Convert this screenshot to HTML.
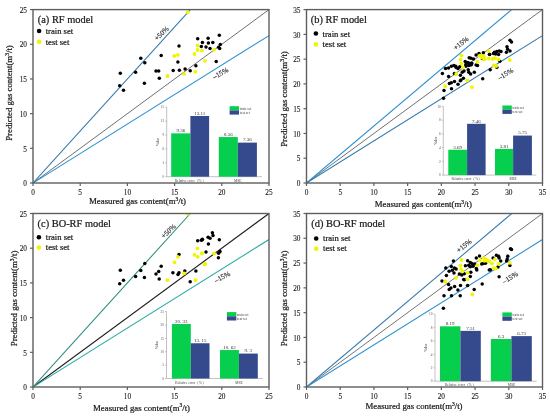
<!DOCTYPE html><html><head><meta charset="utf-8"><style>html,body{margin:0;padding:0;background:#fff;}svg{display:block;}#w{width:550px;height:416px;overflow:hidden;will-change:transform;}</style></head><body><div id="w">
<svg width="550" height="416" viewBox="0 0 550 416" font-family='"Liberation Serif", serif'>
<rect width="550" height="416" fill="#fff"/>
<style>.t{stroke:#1a1a1a;stroke-width:0.22px;}.k{stroke:#1a1a1a;stroke-width:0.1px;}</style>
<clipPath id="ca"><rect x="33" y="9.6" width="236" height="173.4"/></clipPath>
<g clip-path="url(#ca)">
<line x1="33" y1="183" x2="269" y2="9.6" stroke="#707070" stroke-width="1.0"/>
<line x1="33" y1="183" x2="190.33" y2="9.6" stroke="#3479ad" stroke-width="1.05"/>
<line x1="33" y1="183" x2="269" y2="35.61" stroke="#2b8fcf" stroke-width="1.05"/>
<circle cx="120.3" cy="73.3" r="1.75" fill="#000"/>
<circle cx="119.7" cy="85.7" r="1.75" fill="#000"/>
<circle cx="123.5" cy="90.3" r="1.75" fill="#000"/>
<circle cx="135.6" cy="72.2" r="1.75" fill="#000"/>
<circle cx="140.8" cy="58.3" r="1.75" fill="#000"/>
<circle cx="144.8" cy="62.8" r="1.75" fill="#000"/>
<circle cx="144.4" cy="83.3" r="1.75" fill="#000"/>
<circle cx="156" cy="71.1" r="1.75" fill="#000"/>
<circle cx="158.7" cy="71.1" r="1.75" fill="#000"/>
<circle cx="159.3" cy="78.2" r="1.75" fill="#000"/>
<circle cx="161.2" cy="55.6" r="1.75" fill="#000"/>
<circle cx="179" cy="45.9" r="1.75" fill="#000"/>
<circle cx="177.9" cy="62.1" r="1.75" fill="#000"/>
<circle cx="197.7" cy="38.7" r="1.75" fill="#000"/>
<circle cx="202.4" cy="42.4" r="1.75" fill="#000"/>
<circle cx="201.3" cy="46.5" r="1.75" fill="#000"/>
<circle cx="195.9" cy="65.7" r="1.75" fill="#000"/>
<circle cx="173.2" cy="70.4" r="1.75" fill="#000"/>
<circle cx="179.4" cy="70.3" r="1.75" fill="#000"/>
<circle cx="185.1" cy="69" r="1.75" fill="#000"/>
<circle cx="190.2" cy="70.8" r="1.75" fill="#000"/>
<circle cx="219.3" cy="35.2" r="1.75" fill="#000"/>
<circle cx="208.1" cy="38.3" r="1.75" fill="#000"/>
<circle cx="208.4" cy="43" r="1.75" fill="#000"/>
<circle cx="212.8" cy="42.4" r="1.75" fill="#000"/>
<circle cx="206" cy="47" r="1.75" fill="#000"/>
<circle cx="210" cy="48.4" r="1.75" fill="#000"/>
<circle cx="220.3" cy="44.6" r="1.75" fill="#000"/>
<circle cx="218.6" cy="47.3" r="1.75" fill="#000"/>
<circle cx="219.7" cy="48.4" r="1.75" fill="#000"/>
<circle cx="216.2" cy="61.6" r="1.75" fill="#000"/>
<circle cx="174.3" cy="56" r="1.9" fill="#f0f500"/>
<circle cx="177.9" cy="54.9" r="1.9" fill="#f0f500"/>
<circle cx="197.5" cy="45.4" r="1.9" fill="#f0f500"/>
<circle cx="197.5" cy="50" r="1.9" fill="#f0f500"/>
<circle cx="201.9" cy="50.6" r="1.9" fill="#f0f500"/>
<circle cx="194.5" cy="54" r="1.9" fill="#f0f500"/>
<circle cx="195.3" cy="71.7" r="1.9" fill="#f0f500"/>
<circle cx="184.2" cy="73.9" r="1.9" fill="#f0f500"/>
<circle cx="167.4" cy="76" r="1.9" fill="#f0f500"/>
<circle cx="205" cy="60.8" r="1.9" fill="#f0f500"/>
<circle cx="214.1" cy="49.8" r="1.9" fill="#f0f500"/>
<circle cx="187.8" cy="12.3" r="1.9" fill="#f0f500"/>
</g>
<rect x="33" y="9.6" width="236" height="173.4" fill="none" stroke="#5e5e5e" stroke-width="1.4"/>
<line x1="30" y1="183.00" x2="33" y2="183.00" stroke="#5e5e5e" stroke-width="1.2"/>
<line x1="33.00" y1="183" x2="33.00" y2="186" stroke="#5e5e5e" stroke-width="1.2"/>
<text x="27" y="186.20" font-size="7.3" text-anchor="end" fill="#1a1a1a" class="k">0</text>
<text x="33.00" y="194.50" font-size="7.3" text-anchor="middle" fill="#1a1a1a" class="k">0</text>
<line x1="30" y1="148.32" x2="33" y2="148.32" stroke="#5e5e5e" stroke-width="1.2"/>
<line x1="80.20" y1="183" x2="80.20" y2="186" stroke="#5e5e5e" stroke-width="1.2"/>
<text x="27" y="151.52" font-size="7.3" text-anchor="end" fill="#1a1a1a" class="k">5</text>
<text x="80.20" y="194.50" font-size="7.3" text-anchor="middle" fill="#1a1a1a" class="k">5</text>
<line x1="30" y1="113.64" x2="33" y2="113.64" stroke="#5e5e5e" stroke-width="1.2"/>
<line x1="127.40" y1="183" x2="127.40" y2="186" stroke="#5e5e5e" stroke-width="1.2"/>
<text x="27" y="116.84" font-size="7.3" text-anchor="end" fill="#1a1a1a" class="k">10</text>
<text x="127.40" y="194.50" font-size="7.3" text-anchor="middle" fill="#1a1a1a" class="k">10</text>
<line x1="30" y1="78.96" x2="33" y2="78.96" stroke="#5e5e5e" stroke-width="1.2"/>
<line x1="174.60" y1="183" x2="174.60" y2="186" stroke="#5e5e5e" stroke-width="1.2"/>
<text x="27" y="82.16" font-size="7.3" text-anchor="end" fill="#1a1a1a" class="k">15</text>
<text x="174.60" y="194.50" font-size="7.3" text-anchor="middle" fill="#1a1a1a" class="k">15</text>
<line x1="30" y1="44.28" x2="33" y2="44.28" stroke="#5e5e5e" stroke-width="1.2"/>
<line x1="221.80" y1="183" x2="221.80" y2="186" stroke="#5e5e5e" stroke-width="1.2"/>
<text x="27" y="47.48" font-size="7.3" text-anchor="end" fill="#1a1a1a" class="k">20</text>
<text x="221.80" y="194.50" font-size="7.3" text-anchor="middle" fill="#1a1a1a" class="k">20</text>
<line x1="30" y1="9.60" x2="33" y2="9.60" stroke="#5e5e5e" stroke-width="1.2"/>
<line x1="269.00" y1="183" x2="269.00" y2="186" stroke="#5e5e5e" stroke-width="1.2"/>
<text x="27" y="12.80" font-size="7.3" text-anchor="end" fill="#1a1a1a" class="k">25</text>
<text x="269.00" y="194.50" font-size="7.3" text-anchor="middle" fill="#1a1a1a" class="k">25</text>
<text x="89" y="204.2" font-size="8.8" fill="#1a1a1a" class="t">Measured gas content(m<tspan font-size="5.5" dy="-3.2">3</tspan><tspan dy="3.2">/t)</tspan></text>
<text transform="translate(12,140.8) rotate(-90)" x="0" y="0" font-size="8.8" fill="#1a1a1a" class="t">Predicted gas content(m<tspan font-size="5.5" dy="-3.2">3</tspan><tspan dy="3.2">/t)</tspan></text>
<text x="37.8" y="22.7" font-size="10.4" fill="#1a1a1a" class="t">(a) RF model</text>
<circle cx="39.1" cy="31.0" r="2.3" fill="#000"/>
<text x="45.7" y="34.2" font-size="8.6" fill="#1a1a1a" class="t">train set</text>
<circle cx="39.1" cy="41.800000000000004" r="2.3" fill="#f0f500"/>
<text x="45.7" y="44.6" font-size="8.6" fill="#1a1a1a" class="t">test set</text>
<text transform="translate(161.6,33.4) rotate(-43)" x="0" y="2.3" font-size="7.2" text-anchor="middle" fill="#3a3a3a" stroke="#3a3a3a" stroke-width="0.2">+50%</text>
<text transform="translate(220.5,73.4) rotate(-29)" x="0" y="2.3" font-size="7.2" text-anchor="middle" fill="#3a3a3a" stroke="#3a3a3a" stroke-width="0.2">–15%</text>
<line x1="166.7" y1="176.7" x2="166.7" y2="107.25" stroke="#9a9a9a" stroke-width="0.6"/>
<line x1="166.7" y1="176.7" x2="262" y2="176.7" stroke="#9a9a9a" stroke-width="0.6"/>
<line x1="165.2" y1="176.70" x2="166.7" y2="176.70" stroke="#888" stroke-width="0.5"/>
<text x="164.2" y="177.90" font-size="3.4" text-anchor="end" fill="#555">0</text>
<line x1="165.2" y1="162.81" x2="166.7" y2="162.81" stroke="#888" stroke-width="0.5"/>
<text x="164.2" y="164.01" font-size="3.4" text-anchor="end" fill="#555">3</text>
<line x1="165.2" y1="148.92" x2="166.7" y2="148.92" stroke="#888" stroke-width="0.5"/>
<text x="164.2" y="150.12" font-size="3.4" text-anchor="end" fill="#555">6</text>
<line x1="165.2" y1="135.03" x2="166.7" y2="135.03" stroke="#888" stroke-width="0.5"/>
<text x="164.2" y="136.23" font-size="3.4" text-anchor="end" fill="#555">9</text>
<line x1="165.2" y1="121.14" x2="166.7" y2="121.14" stroke="#888" stroke-width="0.5"/>
<text x="164.2" y="122.34" font-size="3.4" text-anchor="end" fill="#555">12</text>
<line x1="165.2" y1="107.25" x2="166.7" y2="107.25" stroke="#888" stroke-width="0.5"/>
<text x="164.2" y="108.45" font-size="3.4" text-anchor="end" fill="#555">15</text>
<rect x="171.2" y="133.36" width="19.20" height="43.34" fill="#05cf4c"/>
<text x="180.80" y="132.16" font-size="5" text-anchor="middle" fill="#333">9.36</text>
<rect x="190.4" y="116.00" width="18.70" height="60.70" fill="#354a8c"/>
<text x="199.75" y="114.80" font-size="5" text-anchor="middle" fill="#333">13.11</text>
<rect x="218.8" y="137.07" width="19.00" height="39.63" fill="#05cf4c"/>
<text x="228.30" y="135.87" font-size="5" text-anchor="middle" fill="#333">8.56</text>
<rect x="237.8" y="142.62" width="19.10" height="34.08" fill="#354a8c"/>
<text x="247.35" y="141.42" font-size="5" text-anchor="middle" fill="#333">7.36</text>
<text x="190.15" y="181.70" font-size="3.6" text-anchor="middle" fill="#444">Relative error（%）</text>
<text x="237.80" y="181.70" font-size="3.6" text-anchor="middle" fill="#444">MSE</text>
<text transform="translate(158.6,141.97) rotate(-90)" x="0" y="0" font-size="3.6" text-anchor="middle" fill="#444">Value</text>
<rect x="229.6" y="106.2" width="9.4" height="4.2" fill="#05cf4c"/>
<rect x="229.6" y="110.4" width="9.4" height="4.2" fill="#354a8c"/>
<text x="239.79999999999998" y="109.60000000000001" font-size="3.6" fill="#444">train set</text>
<text x="239.79999999999998" y="113.8" font-size="3.6" fill="#444">test set</text>
<clipPath id="cb"><rect x="306.5" y="9.6" width="236.0" height="173.4"/></clipPath>
<g clip-path="url(#cb)">
<line x1="306.5" y1="183" x2="542.5" y2="9.6" stroke="#707070" stroke-width="1.0"/>
<line x1="306.5" y1="183" x2="511.72" y2="9.6" stroke="#2b8fcf" stroke-width="1.05"/>
<line x1="306.5" y1="183" x2="542.5" y2="35.61" stroke="#3479ad" stroke-width="1.05"/>
<circle cx="442.4" cy="73.4" r="1.75" fill="#000"/>
<circle cx="445.5" cy="68.4" r="1.75" fill="#000"/>
<circle cx="448.5" cy="68.1" r="1.75" fill="#000"/>
<circle cx="451.4" cy="66.2" r="1.75" fill="#000"/>
<circle cx="453.8" cy="65.6" r="1.75" fill="#000"/>
<circle cx="456.2" cy="67.4" r="1.75" fill="#000"/>
<circle cx="458" cy="68.6" r="1.75" fill="#000"/>
<circle cx="459.8" cy="66.8" r="1.75" fill="#000"/>
<circle cx="454.4" cy="73.4" r="1.75" fill="#000"/>
<circle cx="448.6" cy="76.5" r="1.75" fill="#000"/>
<circle cx="449.4" cy="83.4" r="1.75" fill="#000"/>
<circle cx="451.3" cy="82.7" r="1.75" fill="#000"/>
<circle cx="454.5" cy="81.4" r="1.75" fill="#000"/>
<circle cx="458" cy="84.3" r="1.75" fill="#000"/>
<circle cx="444" cy="90.4" r="1.75" fill="#000"/>
<circle cx="451.5" cy="88.8" r="1.75" fill="#000"/>
<circle cx="460.4" cy="75.2" r="1.75" fill="#000"/>
<circle cx="462.2" cy="72.2" r="1.75" fill="#000"/>
<circle cx="464" cy="71" r="1.75" fill="#000"/>
<circle cx="461" cy="80" r="1.75" fill="#000"/>
<circle cx="463.4" cy="78.2" r="1.75" fill="#000"/>
<circle cx="465.2" cy="61.4" r="1.75" fill="#000"/>
<circle cx="465.8" cy="64.4" r="1.75" fill="#000"/>
<circle cx="468.2" cy="69.8" r="1.75" fill="#000"/>
<circle cx="468.8" cy="72.2" r="1.75" fill="#000"/>
<circle cx="470.6" cy="74" r="1.75" fill="#000"/>
<circle cx="469.2" cy="57.8" r="1.75" fill="#000"/>
<circle cx="471" cy="58.2" r="1.75" fill="#000"/>
<circle cx="473.5" cy="58.9" r="1.75" fill="#000"/>
<circle cx="470" cy="65" r="1.75" fill="#000"/>
<circle cx="471.8" cy="63.2" r="1.75" fill="#000"/>
<circle cx="474.3" cy="72.2" r="1.75" fill="#000"/>
<circle cx="476.1" cy="65.1" r="1.75" fill="#000"/>
<circle cx="477.5" cy="65.5" r="1.75" fill="#000"/>
<circle cx="476.1" cy="54.9" r="1.75" fill="#000"/>
<circle cx="479" cy="53.5" r="1.75" fill="#000"/>
<circle cx="483.4" cy="52.7" r="1.75" fill="#000"/>
<circle cx="482.3" cy="58.5" r="1.75" fill="#000"/>
<circle cx="482.7" cy="78.8" r="1.75" fill="#000"/>
<circle cx="443.5" cy="98.2" r="1.75" fill="#000"/>
<circle cx="467.7" cy="62.5" r="1.75" fill="#000"/>
<circle cx="469.9" cy="63.3" r="1.75" fill="#000"/>
<circle cx="471.4" cy="64.7" r="1.75" fill="#000"/>
<circle cx="468.8" cy="65.5" r="1.75" fill="#000"/>
<circle cx="455.7" cy="66.2" r="1.75" fill="#000"/>
<circle cx="465.9" cy="66.2" r="1.75" fill="#000"/>
<circle cx="489.5" cy="54.2" r="1.75" fill="#000"/>
<circle cx="493.5" cy="53.5" r="1.75" fill="#000"/>
<circle cx="510" cy="40.2" r="1.75" fill="#000"/>
<circle cx="511.5" cy="42" r="1.75" fill="#000"/>
<circle cx="507" cy="46.8" r="1.75" fill="#000"/>
<circle cx="507.6" cy="49.2" r="1.75" fill="#000"/>
<circle cx="506.4" cy="52.2" r="1.75" fill="#000"/>
<circle cx="510" cy="51" r="1.75" fill="#000"/>
<circle cx="494.4" cy="52.2" r="1.75" fill="#000"/>
<circle cx="496.8" cy="51.6" r="1.75" fill="#000"/>
<circle cx="499.2" cy="51" r="1.75" fill="#000"/>
<circle cx="501" cy="51.6" r="1.75" fill="#000"/>
<circle cx="495.6" cy="54" r="1.75" fill="#000"/>
<circle cx="498.6" cy="54.6" r="1.75" fill="#000"/>
<circle cx="489.6" cy="54.6" r="1.75" fill="#000"/>
<circle cx="499.8" cy="61.2" r="1.75" fill="#000"/>
<circle cx="496.8" cy="67.3" r="1.75" fill="#000"/>
<circle cx="490.2" cy="69.7" r="1.75" fill="#000"/>
<circle cx="460.3" cy="80.8" r="1.75" fill="#000"/>
<circle cx="461.5" cy="55.3" r="1.9" fill="#f0f500"/>
<circle cx="460.5" cy="59.6" r="1.9" fill="#f0f500"/>
<circle cx="461.2" cy="63.6" r="1.9" fill="#f0f500"/>
<circle cx="463" cy="67.3" r="1.9" fill="#f0f500"/>
<circle cx="456.2" cy="74" r="1.9" fill="#f0f500"/>
<circle cx="467.3" cy="80.5" r="1.9" fill="#f0f500"/>
<circle cx="445.2" cy="86.2" r="1.9" fill="#f0f500"/>
<circle cx="472" cy="87.2" r="1.9" fill="#f0f500"/>
<circle cx="477.5" cy="61.8" r="1.9" fill="#f0f500"/>
<circle cx="479.7" cy="55.6" r="1.9" fill="#f0f500"/>
<circle cx="481.5" cy="57.5" r="1.9" fill="#f0f500"/>
<circle cx="484.1" cy="56.4" r="1.9" fill="#f0f500"/>
<circle cx="484.5" cy="59.3" r="1.9" fill="#f0f500"/>
<circle cx="488.6" cy="51.1" r="1.9" fill="#f0f500"/>
<circle cx="488.8" cy="58.6" r="1.9" fill="#f0f500"/>
<circle cx="492.7" cy="59" r="1.9" fill="#f0f500"/>
<circle cx="495" cy="58.2" r="1.9" fill="#f0f500"/>
<circle cx="498.6" cy="59.4" r="1.9" fill="#f0f500"/>
<circle cx="493.8" cy="65.5" r="1.9" fill="#f0f500"/>
<circle cx="496.2" cy="66" r="1.9" fill="#f0f500"/>
<circle cx="509.8" cy="60" r="1.9" fill="#f0f500"/>
<circle cx="481.8" cy="55.8" r="1.9" fill="#f0f500"/>
<circle cx="484.2" cy="58.8" r="1.9" fill="#f0f500"/>
</g>
<rect x="306.5" y="9.6" width="236.0" height="173.4" fill="none" stroke="#5e5e5e" stroke-width="1.4"/>
<line x1="303.5" y1="183.00" x2="306.5" y2="183.00" stroke="#5e5e5e" stroke-width="1.2"/>
<line x1="306.50" y1="183" x2="306.50" y2="186" stroke="#5e5e5e" stroke-width="1.2"/>
<text x="300.5" y="186.20" font-size="7.3" text-anchor="end" fill="#1a1a1a" class="k">0</text>
<text x="306.50" y="194.50" font-size="7.3" text-anchor="middle" fill="#1a1a1a" class="k">0</text>
<line x1="303.5" y1="158.23" x2="306.5" y2="158.23" stroke="#5e5e5e" stroke-width="1.2"/>
<line x1="340.21" y1="183" x2="340.21" y2="186" stroke="#5e5e5e" stroke-width="1.2"/>
<text x="300.5" y="161.43" font-size="7.3" text-anchor="end" fill="#1a1a1a" class="k">5</text>
<text x="340.21" y="194.50" font-size="7.3" text-anchor="middle" fill="#1a1a1a" class="k">5</text>
<line x1="303.5" y1="133.46" x2="306.5" y2="133.46" stroke="#5e5e5e" stroke-width="1.2"/>
<line x1="373.93" y1="183" x2="373.93" y2="186" stroke="#5e5e5e" stroke-width="1.2"/>
<text x="300.5" y="136.66" font-size="7.3" text-anchor="end" fill="#1a1a1a" class="k">10</text>
<text x="373.93" y="194.50" font-size="7.3" text-anchor="middle" fill="#1a1a1a" class="k">10</text>
<line x1="303.5" y1="108.69" x2="306.5" y2="108.69" stroke="#5e5e5e" stroke-width="1.2"/>
<line x1="407.64" y1="183" x2="407.64" y2="186" stroke="#5e5e5e" stroke-width="1.2"/>
<text x="300.5" y="111.89" font-size="7.3" text-anchor="end" fill="#1a1a1a" class="k">15</text>
<text x="407.64" y="194.50" font-size="7.3" text-anchor="middle" fill="#1a1a1a" class="k">15</text>
<line x1="303.5" y1="83.91" x2="306.5" y2="83.91" stroke="#5e5e5e" stroke-width="1.2"/>
<line x1="441.36" y1="183" x2="441.36" y2="186" stroke="#5e5e5e" stroke-width="1.2"/>
<text x="300.5" y="87.11" font-size="7.3" text-anchor="end" fill="#1a1a1a" class="k">20</text>
<text x="441.36" y="194.50" font-size="7.3" text-anchor="middle" fill="#1a1a1a" class="k">20</text>
<line x1="303.5" y1="59.14" x2="306.5" y2="59.14" stroke="#5e5e5e" stroke-width="1.2"/>
<line x1="475.07" y1="183" x2="475.07" y2="186" stroke="#5e5e5e" stroke-width="1.2"/>
<text x="300.5" y="62.34" font-size="7.3" text-anchor="end" fill="#1a1a1a" class="k">25</text>
<text x="475.07" y="194.50" font-size="7.3" text-anchor="middle" fill="#1a1a1a" class="k">25</text>
<line x1="303.5" y1="34.37" x2="306.5" y2="34.37" stroke="#5e5e5e" stroke-width="1.2"/>
<line x1="508.79" y1="183" x2="508.79" y2="186" stroke="#5e5e5e" stroke-width="1.2"/>
<text x="300.5" y="37.57" font-size="7.3" text-anchor="end" fill="#1a1a1a" class="k">30</text>
<text x="508.79" y="194.50" font-size="7.3" text-anchor="middle" fill="#1a1a1a" class="k">30</text>
<line x1="303.5" y1="9.60" x2="306.5" y2="9.60" stroke="#5e5e5e" stroke-width="1.2"/>
<line x1="542.50" y1="183" x2="542.50" y2="186" stroke="#5e5e5e" stroke-width="1.2"/>
<text x="300.5" y="12.80" font-size="7.3" text-anchor="end" fill="#1a1a1a" class="k">35</text>
<text x="542.50" y="194.50" font-size="7.3" text-anchor="middle" fill="#1a1a1a" class="k">35</text>
<text x="374.8" y="206.9" font-size="8.8" fill="#1a1a1a" class="t">Measured gas content(m<tspan font-size="5.5" dy="-3.2">3</tspan><tspan dy="3.2">/t)</tspan></text>
<text transform="translate(287,146.8) rotate(-90)" x="0" y="0" font-size="8.8" fill="#1a1a1a" class="t">Predicted gas content(m<tspan font-size="5.5" dy="-3.2">3</tspan><tspan dy="3.2">/t)</tspan></text>
<text x="310.8" y="22.7" font-size="10.4" fill="#1a1a1a" class="t">(b) RF model</text>
<circle cx="315.9" cy="33.5" r="2.3" fill="#000"/>
<text x="322.6" y="36.7" font-size="8.6" fill="#1a1a1a" class="t">train set</text>
<circle cx="315.9" cy="44.4" r="2.3" fill="#f0f500"/>
<text x="322.6" y="46.9" font-size="8.6" fill="#1a1a1a" class="t">test set</text>
<text transform="translate(461,43.3) rotate(-38)" x="0" y="2.3" font-size="7.2" text-anchor="middle" fill="#3a3a3a" stroke="#3a3a3a" stroke-width="0.2">+15%</text>
<text transform="translate(505.5,74) rotate(-30)" x="0" y="2.3" font-size="7.2" text-anchor="middle" fill="#3a3a3a" stroke="#3a3a3a" stroke-width="0.2">–15%</text>
<line x1="443.3" y1="175.1" x2="443.3" y2="106.35" stroke="#9a9a9a" stroke-width="0.6"/>
<line x1="443.3" y1="175.1" x2="536.3" y2="175.1" stroke="#9a9a9a" stroke-width="0.6"/>
<line x1="441.8" y1="175.10" x2="443.3" y2="175.10" stroke="#888" stroke-width="0.5"/>
<text x="440.8" y="176.30" font-size="3.4" text-anchor="end" fill="#555">0</text>
<line x1="441.8" y1="161.35" x2="443.3" y2="161.35" stroke="#888" stroke-width="0.5"/>
<text x="440.8" y="162.55" font-size="3.4" text-anchor="end" fill="#555">2</text>
<line x1="441.8" y1="147.60" x2="443.3" y2="147.60" stroke="#888" stroke-width="0.5"/>
<text x="440.8" y="148.80" font-size="3.4" text-anchor="end" fill="#555">4</text>
<line x1="441.8" y1="133.85" x2="443.3" y2="133.85" stroke="#888" stroke-width="0.5"/>
<text x="440.8" y="135.05" font-size="3.4" text-anchor="end" fill="#555">6</text>
<line x1="441.8" y1="120.10" x2="443.3" y2="120.10" stroke="#888" stroke-width="0.5"/>
<text x="440.8" y="121.30" font-size="3.4" text-anchor="end" fill="#555">8</text>
<line x1="441.8" y1="106.35" x2="443.3" y2="106.35" stroke="#888" stroke-width="0.5"/>
<text x="440.8" y="107.55" font-size="3.4" text-anchor="end" fill="#555">10</text>
<rect x="448.3" y="149.73" width="18.80" height="25.37" fill="#05cf4c"/>
<text x="457.70" y="148.53" font-size="5" text-anchor="middle" fill="#333">3.69</text>
<rect x="467.1" y="123.81" width="18.50" height="51.29" fill="#354a8c"/>
<text x="476.35" y="122.61" font-size="5" text-anchor="middle" fill="#333">7.46</text>
<rect x="495" y="148.91" width="18.10" height="26.19" fill="#05cf4c"/>
<text x="504.05" y="147.71" font-size="5" text-anchor="middle" fill="#333">3.81</text>
<rect x="513.1" y="135.57" width="18.80" height="39.53" fill="#354a8c"/>
<text x="522.50" y="134.37" font-size="5" text-anchor="middle" fill="#333">5.75</text>
<text x="466.95" y="180.10" font-size="3.6" text-anchor="middle" fill="#444">Relative error（%）</text>
<text x="513.10" y="180.10" font-size="3.6" text-anchor="middle" fill="#444">MSE</text>
<text transform="translate(437.4,140.72) rotate(-90)" x="0" y="0" font-size="3.6" text-anchor="middle" fill="#444">Value</text>
<rect x="502.4" y="105.5" width="9.4" height="4.2" fill="#05cf4c"/>
<rect x="502.4" y="109.7" width="9.4" height="4.2" fill="#354a8c"/>
<text x="512.6" y="108.9" font-size="3.6" fill="#444">train set</text>
<text x="512.6" y="113.1" font-size="3.6" fill="#444">test set</text>
<clipPath id="cc"><rect x="33" y="213.5" width="236" height="173.5"/></clipPath>
<g clip-path="url(#cc)">
<line x1="33" y1="387" x2="269" y2="213.5" stroke="#1e1e1e" stroke-width="1.15"/>
<line x1="33" y1="387" x2="190.33" y2="213.5" stroke="#2a8a7e" stroke-width="1.05"/>
<line x1="33" y1="387" x2="269" y2="239.53" stroke="#25aaa0" stroke-width="1.05"/>
<circle cx="120.3" cy="270.2" r="1.75" fill="#000"/>
<circle cx="123.5" cy="280.2" r="1.75" fill="#000"/>
<circle cx="119.7" cy="283.7" r="1.75" fill="#000"/>
<circle cx="135.6" cy="276.4" r="1.75" fill="#000"/>
<circle cx="140.8" cy="270.6" r="1.75" fill="#000"/>
<circle cx="144.8" cy="263.6" r="1.75" fill="#000"/>
<circle cx="144.4" cy="277.5" r="1.75" fill="#000"/>
<circle cx="156" cy="274" r="1.75" fill="#000"/>
<circle cx="158.7" cy="271.5" r="1.75" fill="#000"/>
<circle cx="159.2" cy="279.1" r="1.75" fill="#000"/>
<circle cx="161.2" cy="266.3" r="1.75" fill="#000"/>
<circle cx="179" cy="254.4" r="1.75" fill="#000"/>
<circle cx="197.7" cy="240.8" r="1.75" fill="#000"/>
<circle cx="202.4" cy="239.2" r="1.75" fill="#000"/>
<circle cx="201.3" cy="240.3" r="1.75" fill="#000"/>
<circle cx="172.9" cy="272.7" r="1.75" fill="#000"/>
<circle cx="179" cy="272.7" r="1.75" fill="#000"/>
<circle cx="178" cy="274.5" r="1.75" fill="#000"/>
<circle cx="184.8" cy="271.1" r="1.75" fill="#000"/>
<circle cx="195.9" cy="270.9" r="1.75" fill="#000"/>
<circle cx="212.4" cy="232.8" r="1.75" fill="#000"/>
<circle cx="213" cy="235.4" r="1.75" fill="#000"/>
<circle cx="208.1" cy="237.3" r="1.75" fill="#000"/>
<circle cx="210" cy="238.2" r="1.75" fill="#000"/>
<circle cx="202.2" cy="239.7" r="1.75" fill="#000"/>
<circle cx="219.3" cy="239.7" r="1.75" fill="#000"/>
<circle cx="208.4" cy="244" r="1.75" fill="#000"/>
<circle cx="206" cy="251.9" r="1.75" fill="#000"/>
<circle cx="220" cy="251.4" r="1.75" fill="#000"/>
<circle cx="218.6" cy="253.3" r="1.75" fill="#000"/>
<circle cx="218.4" cy="257.7" r="1.75" fill="#000"/>
<circle cx="190.2" cy="281.8" r="1.75" fill="#000"/>
<circle cx="177.9" cy="256.8" r="1.9" fill="#f0f500"/>
<circle cx="174.5" cy="262.3" r="1.9" fill="#f0f500"/>
<circle cx="197.4" cy="248.4" r="1.9" fill="#f0f500"/>
<circle cx="194.5" cy="254.9" r="1.9" fill="#f0f500"/>
<circle cx="197.7" cy="256.8" r="1.9" fill="#f0f500"/>
<circle cx="201.8" cy="253.3" r="1.9" fill="#f0f500"/>
<circle cx="184.2" cy="273.3" r="1.9" fill="#f0f500"/>
<circle cx="204.6" cy="264.6" r="1.9" fill="#f0f500"/>
<circle cx="202" cy="253.3" r="1.9" fill="#f0f500"/>
<circle cx="214.1" cy="253.5" r="1.9" fill="#f0f500"/>
<circle cx="205.4" cy="263.8" r="1.9" fill="#f0f500"/>
<circle cx="167.4" cy="280.2" r="1.9" fill="#f0f500"/>
<circle cx="195.6" cy="280.2" r="1.9" fill="#f0f500"/>
<circle cx="187.8" cy="213.8" r="1.9" fill="#f0f500"/>
</g>
<rect x="33" y="213.5" width="236" height="173.5" fill="none" stroke="#5e5e5e" stroke-width="1.4"/>
<line x1="30" y1="387.00" x2="33" y2="387.00" stroke="#5e5e5e" stroke-width="1.2"/>
<line x1="33.00" y1="387" x2="33.00" y2="390" stroke="#5e5e5e" stroke-width="1.2"/>
<text x="27" y="390.20" font-size="7.3" text-anchor="end" fill="#1a1a1a" class="k">0</text>
<text x="33.00" y="398.50" font-size="7.3" text-anchor="middle" fill="#1a1a1a" class="k">0</text>
<line x1="30" y1="352.30" x2="33" y2="352.30" stroke="#5e5e5e" stroke-width="1.2"/>
<line x1="80.20" y1="387" x2="80.20" y2="390" stroke="#5e5e5e" stroke-width="1.2"/>
<text x="27" y="355.50" font-size="7.3" text-anchor="end" fill="#1a1a1a" class="k">5</text>
<text x="80.20" y="398.50" font-size="7.3" text-anchor="middle" fill="#1a1a1a" class="k">5</text>
<line x1="30" y1="317.60" x2="33" y2="317.60" stroke="#5e5e5e" stroke-width="1.2"/>
<line x1="127.40" y1="387" x2="127.40" y2="390" stroke="#5e5e5e" stroke-width="1.2"/>
<text x="27" y="320.80" font-size="7.3" text-anchor="end" fill="#1a1a1a" class="k">10</text>
<text x="127.40" y="398.50" font-size="7.3" text-anchor="middle" fill="#1a1a1a" class="k">10</text>
<line x1="30" y1="282.90" x2="33" y2="282.90" stroke="#5e5e5e" stroke-width="1.2"/>
<line x1="174.60" y1="387" x2="174.60" y2="390" stroke="#5e5e5e" stroke-width="1.2"/>
<text x="27" y="286.10" font-size="7.3" text-anchor="end" fill="#1a1a1a" class="k">15</text>
<text x="174.60" y="398.50" font-size="7.3" text-anchor="middle" fill="#1a1a1a" class="k">15</text>
<line x1="30" y1="248.20" x2="33" y2="248.20" stroke="#5e5e5e" stroke-width="1.2"/>
<line x1="221.80" y1="387" x2="221.80" y2="390" stroke="#5e5e5e" stroke-width="1.2"/>
<text x="27" y="251.40" font-size="7.3" text-anchor="end" fill="#1a1a1a" class="k">20</text>
<text x="221.80" y="398.50" font-size="7.3" text-anchor="middle" fill="#1a1a1a" class="k">20</text>
<line x1="30" y1="213.50" x2="33" y2="213.50" stroke="#5e5e5e" stroke-width="1.2"/>
<line x1="269.00" y1="387" x2="269.00" y2="390" stroke="#5e5e5e" stroke-width="1.2"/>
<text x="27" y="216.70" font-size="7.3" text-anchor="end" fill="#1a1a1a" class="k">25</text>
<text x="269.00" y="398.50" font-size="7.3" text-anchor="middle" fill="#1a1a1a" class="k">25</text>
<text x="93" y="410.6" font-size="8.8" fill="#1a1a1a" class="t">Measured gas content(m<tspan font-size="5.5" dy="-3.2">3</tspan><tspan dy="3.2">/t)</tspan></text>
<text transform="translate(16.8,346.2) rotate(-90)" x="0" y="0" font-size="8.8" fill="#1a1a1a" class="t">Predicted gas content(m<tspan font-size="5.5" dy="-3.2">3</tspan><tspan dy="3.2">/t)</tspan></text>
<text x="37.6" y="226.8" font-size="10.4" fill="#1a1a1a" class="t">(c) BO-RF model</text>
<circle cx="38.9" cy="237.2" r="2.3" fill="#000"/>
<text x="45.8" y="239.9" font-size="8.6" fill="#1a1a1a" class="t">train set</text>
<circle cx="38.9" cy="247.6" r="2.3" fill="#f0f500"/>
<text x="45.8" y="250.3" font-size="8.6" fill="#1a1a1a" class="t">test set</text>
<text transform="translate(168.5,231.1) rotate(-43)" x="0" y="2.3" font-size="7.2" text-anchor="middle" fill="#3a3a3a" stroke="#3a3a3a" stroke-width="0.2">+50%</text>
<text transform="translate(222.3,277.0) rotate(-28)" x="0" y="2.3" font-size="7.2" text-anchor="middle" fill="#3a3a3a" stroke="#3a3a3a" stroke-width="0.2">–15%</text>
<line x1="166.5" y1="378.5" x2="166.5" y2="311.50" stroke="#9a9a9a" stroke-width="0.6"/>
<line x1="166.5" y1="378.5" x2="262.9" y2="378.5" stroke="#9a9a9a" stroke-width="0.6"/>
<line x1="165.0" y1="378.50" x2="166.5" y2="378.50" stroke="#888" stroke-width="0.5"/>
<text x="164.0" y="379.70" font-size="3.4" text-anchor="end" fill="#555">0</text>
<line x1="165.0" y1="365.10" x2="166.5" y2="365.10" stroke="#888" stroke-width="0.5"/>
<text x="164.0" y="366.30" font-size="3.4" text-anchor="end" fill="#555">5</text>
<line x1="165.0" y1="351.70" x2="166.5" y2="351.70" stroke="#888" stroke-width="0.5"/>
<text x="164.0" y="352.90" font-size="3.4" text-anchor="end" fill="#555">10</text>
<line x1="165.0" y1="338.30" x2="166.5" y2="338.30" stroke="#888" stroke-width="0.5"/>
<text x="164.0" y="339.50" font-size="3.4" text-anchor="end" fill="#555">15</text>
<line x1="165.0" y1="324.90" x2="166.5" y2="324.90" stroke="#888" stroke-width="0.5"/>
<text x="164.0" y="326.10" font-size="3.4" text-anchor="end" fill="#555">20</text>
<line x1="165.0" y1="311.50" x2="166.5" y2="311.50" stroke="#888" stroke-width="0.5"/>
<text x="164.0" y="312.70" font-size="3.4" text-anchor="end" fill="#555">25</text>
<rect x="171.9" y="324.02" width="18.90" height="54.48" fill="#05cf4c"/>
<text x="181.35" y="322.82" font-size="5" text-anchor="middle" fill="#333">20. 33</text>
<rect x="190.8" y="343.26" width="18.70" height="35.24" fill="#354a8c"/>
<text x="200.15" y="342.06" font-size="5" text-anchor="middle" fill="#333">13. 15</text>
<rect x="220" y="350.04" width="18.90" height="28.46" fill="#05cf4c"/>
<text x="229.45" y="348.84" font-size="5" text-anchor="middle" fill="#333">10. 62</text>
<rect x="238.9" y="353.58" width="18.90" height="24.92" fill="#354a8c"/>
<text x="248.35" y="352.38" font-size="5" text-anchor="middle" fill="#333">9. 3</text>
<text x="190.70" y="383.50" font-size="3.6" text-anchor="middle" fill="#444">Relative error（%）</text>
<text x="238.90" y="383.50" font-size="3.6" text-anchor="middle" fill="#444">MSE</text>
<text transform="translate(158.3,345.00) rotate(-90)" x="0" y="0" font-size="3.6" text-anchor="middle" fill="#444">Value</text>
<rect x="226.9" y="312.1" width="9.4" height="4.2" fill="#05cf4c"/>
<rect x="226.9" y="316.3" width="9.4" height="4.2" fill="#354a8c"/>
<text x="237.1" y="315.5" font-size="3.6" fill="#444">train set</text>
<text x="237.1" y="319.70000000000005" font-size="3.6" fill="#444">test set</text>
<clipPath id="cd"><rect x="306.5" y="213.5" width="236.0" height="173.5"/></clipPath>
<g clip-path="url(#cd)">
<line x1="306.5" y1="387" x2="542.5" y2="213.5" stroke="#757575" stroke-width="1.0"/>
<line x1="306.5" y1="387" x2="511.72" y2="213.5" stroke="#3479ad" stroke-width="1.05"/>
<line x1="306.5" y1="387" x2="542.5" y2="239.53" stroke="#2b8fcf" stroke-width="1.05"/>
<circle cx="453.4" cy="261" r="1.75" fill="#000"/>
<circle cx="445.8" cy="268" r="1.75" fill="#000"/>
<circle cx="451.3" cy="266.4" r="1.75" fill="#000"/>
<circle cx="454.5" cy="268" r="1.75" fill="#000"/>
<circle cx="449.1" cy="271.3" r="1.75" fill="#000"/>
<circle cx="452.3" cy="270.2" r="1.75" fill="#000"/>
<circle cx="454" cy="272.9" r="1.75" fill="#000"/>
<circle cx="456.1" cy="269.1" r="1.75" fill="#000"/>
<circle cx="446.4" cy="275.6" r="1.75" fill="#000"/>
<circle cx="442" cy="281" r="1.75" fill="#000"/>
<circle cx="448.5" cy="284.6" r="1.75" fill="#000"/>
<circle cx="450.9" cy="288" r="1.75" fill="#000"/>
<circle cx="449.2" cy="289.4" r="1.75" fill="#000"/>
<circle cx="454.6" cy="286.5" r="1.75" fill="#000"/>
<circle cx="457.9" cy="290.1" r="1.75" fill="#000"/>
<circle cx="460.5" cy="285.5" r="1.75" fill="#000"/>
<circle cx="444" cy="295.8" r="1.75" fill="#000"/>
<circle cx="451.5" cy="295.8" r="1.75" fill="#000"/>
<circle cx="460.2" cy="295.8" r="1.75" fill="#000"/>
<circle cx="459.4" cy="274" r="1.75" fill="#000"/>
<circle cx="461.8" cy="275" r="1.75" fill="#000"/>
<circle cx="463.7" cy="279.4" r="1.75" fill="#000"/>
<circle cx="443.4" cy="308.3" r="1.75" fill="#000"/>
<circle cx="476.3" cy="258.1" r="1.75" fill="#000"/>
<circle cx="479.5" cy="256" r="1.75" fill="#000"/>
<circle cx="467.6" cy="260.8" r="1.75" fill="#000"/>
<circle cx="470.3" cy="262.5" r="1.75" fill="#000"/>
<circle cx="471.9" cy="263.5" r="1.75" fill="#000"/>
<circle cx="465.4" cy="265.7" r="1.75" fill="#000"/>
<circle cx="468.7" cy="265.2" r="1.75" fill="#000"/>
<circle cx="470.3" cy="266.8" r="1.75" fill="#000"/>
<circle cx="473" cy="266.3" r="1.75" fill="#000"/>
<circle cx="474.6" cy="264.1" r="1.75" fill="#000"/>
<circle cx="476.3" cy="268.4" r="1.75" fill="#000"/>
<circle cx="476.8" cy="270" r="1.75" fill="#000"/>
<circle cx="481.7" cy="264.1" r="1.75" fill="#000"/>
<circle cx="483.3" cy="263.5" r="1.75" fill="#000"/>
<circle cx="470.8" cy="272.2" r="1.75" fill="#000"/>
<circle cx="464.3" cy="273.8" r="1.75" fill="#000"/>
<circle cx="470.3" cy="276.5" r="1.75" fill="#000"/>
<circle cx="464.3" cy="279.8" r="1.75" fill="#000"/>
<circle cx="467.6" cy="285.5" r="1.75" fill="#000"/>
<circle cx="482.2" cy="284.1" r="1.75" fill="#000"/>
<circle cx="474.2" cy="289.6" r="1.75" fill="#000"/>
<circle cx="489.3" cy="270" r="1.75" fill="#000"/>
<circle cx="510.5" cy="248.7" r="1.75" fill="#000"/>
<circle cx="511.5" cy="249.6" r="1.75" fill="#000"/>
<circle cx="496.4" cy="255.2" r="1.75" fill="#000"/>
<circle cx="498.5" cy="256.3" r="1.75" fill="#000"/>
<circle cx="499.1" cy="257.9" r="1.75" fill="#000"/>
<circle cx="493.1" cy="257.9" r="1.75" fill="#000"/>
<circle cx="507.8" cy="256.3" r="1.75" fill="#000"/>
<circle cx="507.2" cy="259" r="1.75" fill="#000"/>
<circle cx="506.6" cy="261" r="1.75" fill="#000"/>
<circle cx="500.7" cy="261.1" r="1.75" fill="#000"/>
<circle cx="509.9" cy="265.5" r="1.75" fill="#000"/>
<circle cx="498" cy="267.1" r="1.75" fill="#000"/>
<circle cx="490.4" cy="269.8" r="1.75" fill="#000"/>
<circle cx="499.1" cy="276.8" r="1.75" fill="#000"/>
<circle cx="485.5" cy="263.3" r="1.75" fill="#000"/>
<circle cx="461.5" cy="259.9" r="1.9" fill="#f0f500"/>
<circle cx="460.5" cy="265.3" r="1.9" fill="#f0f500"/>
<circle cx="461" cy="269.1" r="1.9" fill="#f0f500"/>
<circle cx="462.6" cy="271.3" r="1.9" fill="#f0f500"/>
<circle cx="456.1" cy="277.8" r="1.9" fill="#f0f500"/>
<circle cx="445.3" cy="281.5" r="1.9" fill="#f0f500"/>
<circle cx="467.6" cy="272.8" r="1.9" fill="#f0f500"/>
<circle cx="467.6" cy="279.3" r="1.9" fill="#f0f500"/>
<circle cx="477.3" cy="265.2" r="1.9" fill="#f0f500"/>
<circle cx="480" cy="260.3" r="1.9" fill="#f0f500"/>
<circle cx="483.8" cy="258.1" r="1.9" fill="#f0f500"/>
<circle cx="484.4" cy="260.8" r="1.9" fill="#f0f500"/>
<circle cx="488.2" cy="261.4" r="1.9" fill="#f0f500"/>
<circle cx="472.3" cy="294.5" r="1.9" fill="#f0f500"/>
<circle cx="486.1" cy="259.5" r="1.9" fill="#f0f500"/>
<circle cx="489.3" cy="261.1" r="1.9" fill="#f0f500"/>
<circle cx="492" cy="263.3" r="1.9" fill="#f0f500"/>
<circle cx="494.8" cy="259.5" r="1.9" fill="#f0f500"/>
<circle cx="498.5" cy="263.8" r="1.9" fill="#f0f500"/>
<circle cx="493.7" cy="268.2" r="1.9" fill="#f0f500"/>
<circle cx="495.8" cy="268.7" r="1.9" fill="#f0f500"/>
<circle cx="509.9" cy="262.8" r="1.9" fill="#f0f500"/>
</g>
<rect x="306.5" y="213.5" width="236.0" height="173.5" fill="none" stroke="#5e5e5e" stroke-width="1.4"/>
<line x1="303.5" y1="387.00" x2="306.5" y2="387.00" stroke="#5e5e5e" stroke-width="1.2"/>
<line x1="306.50" y1="387" x2="306.50" y2="390" stroke="#5e5e5e" stroke-width="1.2"/>
<text x="300.5" y="390.20" font-size="7.3" text-anchor="end" fill="#1a1a1a" class="k">0</text>
<text x="306.50" y="398.50" font-size="7.3" text-anchor="middle" fill="#1a1a1a" class="k">0</text>
<line x1="303.5" y1="362.21" x2="306.5" y2="362.21" stroke="#5e5e5e" stroke-width="1.2"/>
<line x1="340.21" y1="387" x2="340.21" y2="390" stroke="#5e5e5e" stroke-width="1.2"/>
<text x="300.5" y="365.41" font-size="7.3" text-anchor="end" fill="#1a1a1a" class="k">5</text>
<text x="340.21" y="398.50" font-size="7.3" text-anchor="middle" fill="#1a1a1a" class="k">5</text>
<line x1="303.5" y1="337.43" x2="306.5" y2="337.43" stroke="#5e5e5e" stroke-width="1.2"/>
<line x1="373.93" y1="387" x2="373.93" y2="390" stroke="#5e5e5e" stroke-width="1.2"/>
<text x="300.5" y="340.63" font-size="7.3" text-anchor="end" fill="#1a1a1a" class="k">10</text>
<text x="373.93" y="398.50" font-size="7.3" text-anchor="middle" fill="#1a1a1a" class="k">10</text>
<line x1="303.5" y1="312.64" x2="306.5" y2="312.64" stroke="#5e5e5e" stroke-width="1.2"/>
<line x1="407.64" y1="387" x2="407.64" y2="390" stroke="#5e5e5e" stroke-width="1.2"/>
<text x="300.5" y="315.84" font-size="7.3" text-anchor="end" fill="#1a1a1a" class="k">15</text>
<text x="407.64" y="398.50" font-size="7.3" text-anchor="middle" fill="#1a1a1a" class="k">15</text>
<line x1="303.5" y1="287.86" x2="306.5" y2="287.86" stroke="#5e5e5e" stroke-width="1.2"/>
<line x1="441.36" y1="387" x2="441.36" y2="390" stroke="#5e5e5e" stroke-width="1.2"/>
<text x="300.5" y="291.06" font-size="7.3" text-anchor="end" fill="#1a1a1a" class="k">20</text>
<text x="441.36" y="398.50" font-size="7.3" text-anchor="middle" fill="#1a1a1a" class="k">20</text>
<line x1="303.5" y1="263.07" x2="306.5" y2="263.07" stroke="#5e5e5e" stroke-width="1.2"/>
<line x1="475.07" y1="387" x2="475.07" y2="390" stroke="#5e5e5e" stroke-width="1.2"/>
<text x="300.5" y="266.27" font-size="7.3" text-anchor="end" fill="#1a1a1a" class="k">25</text>
<text x="475.07" y="398.50" font-size="7.3" text-anchor="middle" fill="#1a1a1a" class="k">25</text>
<line x1="303.5" y1="238.29" x2="306.5" y2="238.29" stroke="#5e5e5e" stroke-width="1.2"/>
<line x1="508.79" y1="387" x2="508.79" y2="390" stroke="#5e5e5e" stroke-width="1.2"/>
<text x="300.5" y="241.49" font-size="7.3" text-anchor="end" fill="#1a1a1a" class="k">30</text>
<text x="508.79" y="398.50" font-size="7.3" text-anchor="middle" fill="#1a1a1a" class="k">30</text>
<line x1="303.5" y1="213.50" x2="306.5" y2="213.50" stroke="#5e5e5e" stroke-width="1.2"/>
<line x1="542.50" y1="387" x2="542.50" y2="390" stroke="#5e5e5e" stroke-width="1.2"/>
<text x="300.5" y="216.70" font-size="7.3" text-anchor="end" fill="#1a1a1a" class="k">35</text>
<text x="542.50" y="398.50" font-size="7.3" text-anchor="middle" fill="#1a1a1a" class="k">35</text>
<text x="365.5" y="408.8" font-size="8.8" fill="#1a1a1a" class="t">Measured gas content(m<tspan font-size="5.5" dy="-3.2">3</tspan><tspan dy="3.2">/t)</tspan></text>
<text transform="translate(287,346.2) rotate(-90)" x="0" y="0" font-size="8.8" fill="#1a1a1a" class="t">Predicted gas content(m<tspan font-size="5.5" dy="-3.2">3</tspan><tspan dy="3.2">/t)</tspan></text>
<text x="311.3" y="226.8" font-size="10.4" fill="#1a1a1a" class="t">(d) BO-RF model</text>
<circle cx="316.2" cy="238.5" r="2.3" fill="#000"/>
<text x="323.0" y="241.0" font-size="8.6" fill="#1a1a1a" class="t">train set</text>
<circle cx="316.2" cy="248.7" r="2.3" fill="#f0f500"/>
<text x="323.0" y="251.3" font-size="8.6" fill="#1a1a1a" class="t">test set</text>
<text transform="translate(464.1,245.9) rotate(-38)" x="0" y="2.3" font-size="7.2" text-anchor="middle" fill="#3a3a3a" stroke="#3a3a3a" stroke-width="0.2">+15%</text>
<text transform="translate(510.2,277.6) rotate(-31)" x="0" y="2.3" font-size="7.2" text-anchor="middle" fill="#3a3a3a" stroke="#3a3a3a" stroke-width="0.2">–15%</text>
<line x1="435" y1="381.2" x2="435" y2="314.20" stroke="#9a9a9a" stroke-width="0.6"/>
<line x1="435" y1="381.2" x2="536.7" y2="381.2" stroke="#9a9a9a" stroke-width="0.6"/>
<line x1="433.5" y1="381.20" x2="435" y2="381.20" stroke="#888" stroke-width="0.5"/>
<text x="432.5" y="382.40" font-size="3.4" text-anchor="end" fill="#555">0</text>
<line x1="433.5" y1="367.80" x2="435" y2="367.80" stroke="#888" stroke-width="0.5"/>
<text x="432.5" y="369.00" font-size="3.4" text-anchor="end" fill="#555">2</text>
<line x1="433.5" y1="354.40" x2="435" y2="354.40" stroke="#888" stroke-width="0.5"/>
<text x="432.5" y="355.60" font-size="3.4" text-anchor="end" fill="#555">4</text>
<line x1="433.5" y1="341.00" x2="435" y2="341.00" stroke="#888" stroke-width="0.5"/>
<text x="432.5" y="342.20" font-size="3.4" text-anchor="end" fill="#555">6</text>
<line x1="433.5" y1="327.60" x2="435" y2="327.60" stroke="#888" stroke-width="0.5"/>
<text x="432.5" y="328.80" font-size="3.4" text-anchor="end" fill="#555">8</text>
<line x1="433.5" y1="314.20" x2="435" y2="314.20" stroke="#888" stroke-width="0.5"/>
<text x="432.5" y="315.40" font-size="3.4" text-anchor="end" fill="#555">10</text>
<rect x="440" y="326.33" width="20.40" height="54.87" fill="#05cf4c"/>
<text x="450.20" y="325.13" font-size="5" text-anchor="middle" fill="#333">8.19</text>
<rect x="460.4" y="330.88" width="20.40" height="50.32" fill="#354a8c"/>
<text x="470.60" y="329.68" font-size="5" text-anchor="middle" fill="#333">7.51</text>
<rect x="490.9" y="338.99" width="20.50" height="42.21" fill="#05cf4c"/>
<text x="501.15" y="337.79" font-size="5" text-anchor="middle" fill="#333">6.3</text>
<rect x="511.4" y="336.11" width="20.40" height="45.09" fill="#354a8c"/>
<text x="521.60" y="334.91" font-size="5" text-anchor="middle" fill="#333">6.73</text>
<text x="460.40" y="386.20" font-size="3.6" text-anchor="middle" fill="#444">Relative error（%）</text>
<text x="511.40" y="386.20" font-size="3.6" text-anchor="middle" fill="#444">MSE</text>
<text transform="translate(426.5,347.70) rotate(-90)" x="0" y="0" font-size="3.6" text-anchor="middle" fill="#444">Value</text>
<rect x="502.4" y="312.4" width="9.4" height="4.2" fill="#05cf4c"/>
<rect x="502.4" y="316.59999999999997" width="9.4" height="4.2" fill="#354a8c"/>
<text x="512.6" y="315.79999999999995" font-size="3.6" fill="#444">train set</text>
<text x="512.6" y="320.0" font-size="3.6" fill="#444">test set</text>
</svg></div></body></html>
